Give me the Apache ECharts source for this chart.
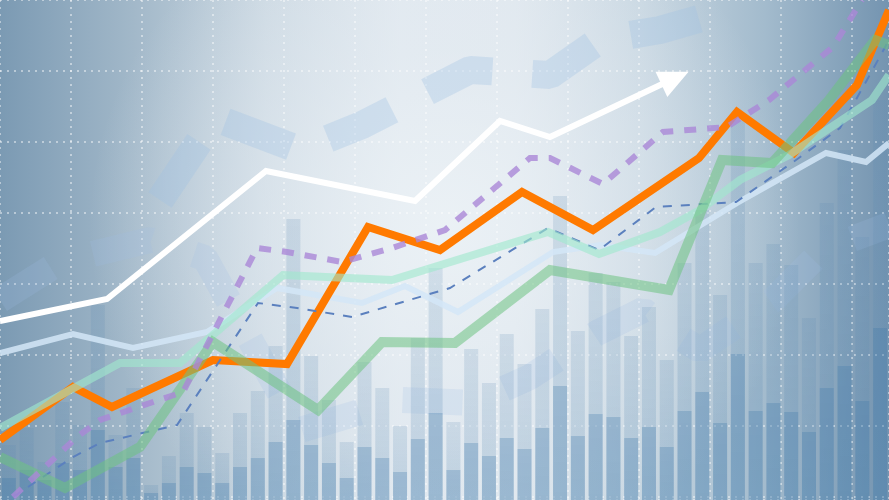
<!DOCTYPE html>
<html>
<head>
<meta charset="utf-8">
<script src="https://cdn.jsdelivr.net/npm/echarts@6/dist/echarts.min.js"></script>
<style>
html,body{margin:0;padding:0;width:889px;height:500px;overflow:hidden;}
#chart{width:889px;height:500px;
background:
 radial-gradient(ellipse 40% 70% at 50% 45%, rgba(236,242,246,0.9) 0%, rgba(230,237,243,0.5) 50%, rgba(230,237,243,0) 100%),
 linear-gradient(90deg,#7b9ab3 0%,#a2b8c9 15%,#cbd8e2 30%,#e0e8ef 45%,#dfe7ee 58%,#c7d6e1 72%,#a3bbcd 86%,#7494b0 100%);
}
</style>
</head>
<body>
<div id="chart"></div>
<script>
// ---- data (x = pixel column, y = distance from top) ----
var barCategories = [];
for (var i = 0; i < 50; i++) barCategories.push('B' + (i + 1));
// height of tall pale bars (from bottom)
var paleBars = [55,72,38,98,75,195,65,112,15,44,87,73,47,87,109,154,281,144,100,58,138,112,74,162,232,78,151,117,166,136,191,304,169,227,218,164,193,140,237,290,205,380,237,256,235,182,297,350,263,400];
// height of darker inner bars
var darkBars = [22,30,20,37,30,70,33,42,7,17,33,27,17,33,42,58,80,55,37,22,53,42,28,61,87,30,57,44,62,51,72,114,64,86,83,62,73,53,89,108,77,146,89,97,88,68,112,134,99,172];

var whiteLine   = [[0,321],[107,299],[266,171],[415,201],[500,121],[550,137],[675,78]];
var orangeLine  = [[0,440],[73,387],[112,407],[213,360],[287,364],[368,227],[440,250],[522,192],[593,230],[699,158],[737,112],[794,153],[857,85],[889,10]];
var purpleLine  = [[13,497],[77,437],[100,420],[153,402],[183,392],[257,248],[287,252],[342,262],[392,248],[445,230],[530,158],[550,158],[603,184],[663,132],[727,127],[769,100],[833,47],[862,0]];
var mintLine    = [[0,428],[120,363],[180,363],[283,275],[392,280],[548,232],[599,254],[660,232],[700,210],[740,180],[789,155],[872,100],[889,75]];
var paleBlueLine= [[0,353],[73,334],[133,348],[207,332],[277,288],[362,303],[405,286],[458,312],[553,252],[600,245],[655,253],[737,203],[826,153],[866,162],[889,143]];
var navyLine    = [[13,497],[73,457],[100,443],[177,425],[258,303],[297,308],[352,317],[450,288],[548,228],[599,250],[656,207],[736,202],[796,160],[840,128],[867,80],[889,40]];
var greenLine   = [[0,457],[65,488],[140,447],[213,342],[318,410],[382,342],[455,343],[550,270],[669,290],[722,160],[772,163],[829,100],[875,40],[889,45]];
var decorUpper  = [[160,200],[215,118],[300,150],[362,125],[470,70],[550,75],[600,40],[660,30],[730,10]];
var decorLower  = [[0,300],[60,262],[150,240],[205,258],[300,430],[400,400],[473,403],[530,377],[597,333],[643,310],[673,333],[700,350],[773,300],[823,250],[889,225]];

var chart = echarts.init(document.getElementById('chart'), null, {renderer:'canvas'});

function lineSeries(data, color, width, type, z){
  return {type:'line', xAxisIndex:0, yAxisIndex:0, data:data, symbol:'none', z:z,
    lineStyle:{color:color, width:width, type:type||'solid', cap:'butt', join:'miter'}, animation:false, silent:true};
}

var whiteData = whiteLine.map(function(p, i){
  if (i === whiteLine.length - 1) {
    return {value:p, symbol:'triangle', symbolSize:[28,30], symbolRotate:-65, itemStyle:{color:'#ffffff'}};
  }
  return {value:p, symbol:'none'};
});

var option = {
  animation:false,
  grid:{left:0,right:0,top:0,bottom:0,containLabel:false},
  xAxis:[
    {type:'value', min:0, max:889, interval:71,
     axisLine:{show:false}, axisTick:{show:false}, axisLabel:{show:false},
     splitLine:{show:true, lineStyle:{color:'rgba(255,255,255,0.6)', width:1.5, type:[2,5]}}},
    {type:'category', data:barCategories, boundaryGap:true, show:false}
  ],
  yAxis:[
    {type:'value', inverse:true, min:0, max:500, interval:71,
     axisLine:{show:false}, axisTick:{show:false}, axisLabel:{show:false},
     splitLine:{show:true, lineStyle:{color:'rgba(255,255,255,0.6)', width:1.5, type:[2,5]}}},
    {type:'value', min:0, max:500, show:false, splitLine:{show:false}}
  ],
  series:[
    {type:'line', xAxisIndex:0, yAxisIndex:0, data:decorUpper, symbol:'none', z:1, silent:true,
     lineStyle:{color:'rgba(160,192,228,0.32)', width:28, type:[70,40], cap:'butt'}},
    {type:'line', xAxisIndex:0, yAxisIndex:0, data:decorLower, symbol:'none', z:1, silent:true,
     lineStyle:{color:'rgba(160,192,228,0.2)', width:26, type:[60,45], cap:'butt'}},
    {type:'bar', xAxisIndex:1, yAxisIndex:1, data:paleBars, barWidth:14, barGap:'-100%', z:2, silent:true,
     itemStyle:{color:new echarts.graphic.LinearGradient(0,0,0,1,[{offset:0,color:'rgba(95,140,180,0.18)'},{offset:1,color:'rgba(90,140,180,0.26)'}])}},
    {type:'bar', xAxisIndex:1, yAxisIndex:1, data:darkBars, barWidth:14, barGap:'-100%', z:3, silent:true,
     itemStyle:{color:'rgba(60,120,170,0.28)'}},
    lineSeries(paleBlueLine,'rgba(212,230,247,0.85)',6,'solid',5),
    {type:'line', xAxisIndex:0, yAxisIndex:0, data:whiteData, symbol:'none', showSymbol:true, z:6, silent:true,
     lineStyle:{color:'#ffffff', width:6, cap:'butt', join:'miter'}},
    lineSeries(orangeLine,'#ff7a00',8,'solid',7),
    lineSeries(navyLine,'#5b80be',2,[9,9],8),
    lineSeries(mintLine,'rgba(160,232,205,0.62)',8,'solid',9),
    lineSeries(greenLine,'rgba(110,195,130,0.55)',10,'solid',10),
    lineSeries(purpleLine,'rgba(170,135,215,0.8)',6,[12,11],11)
  ]
};
chart.setOption(option);
</script>
</body>
</html>
